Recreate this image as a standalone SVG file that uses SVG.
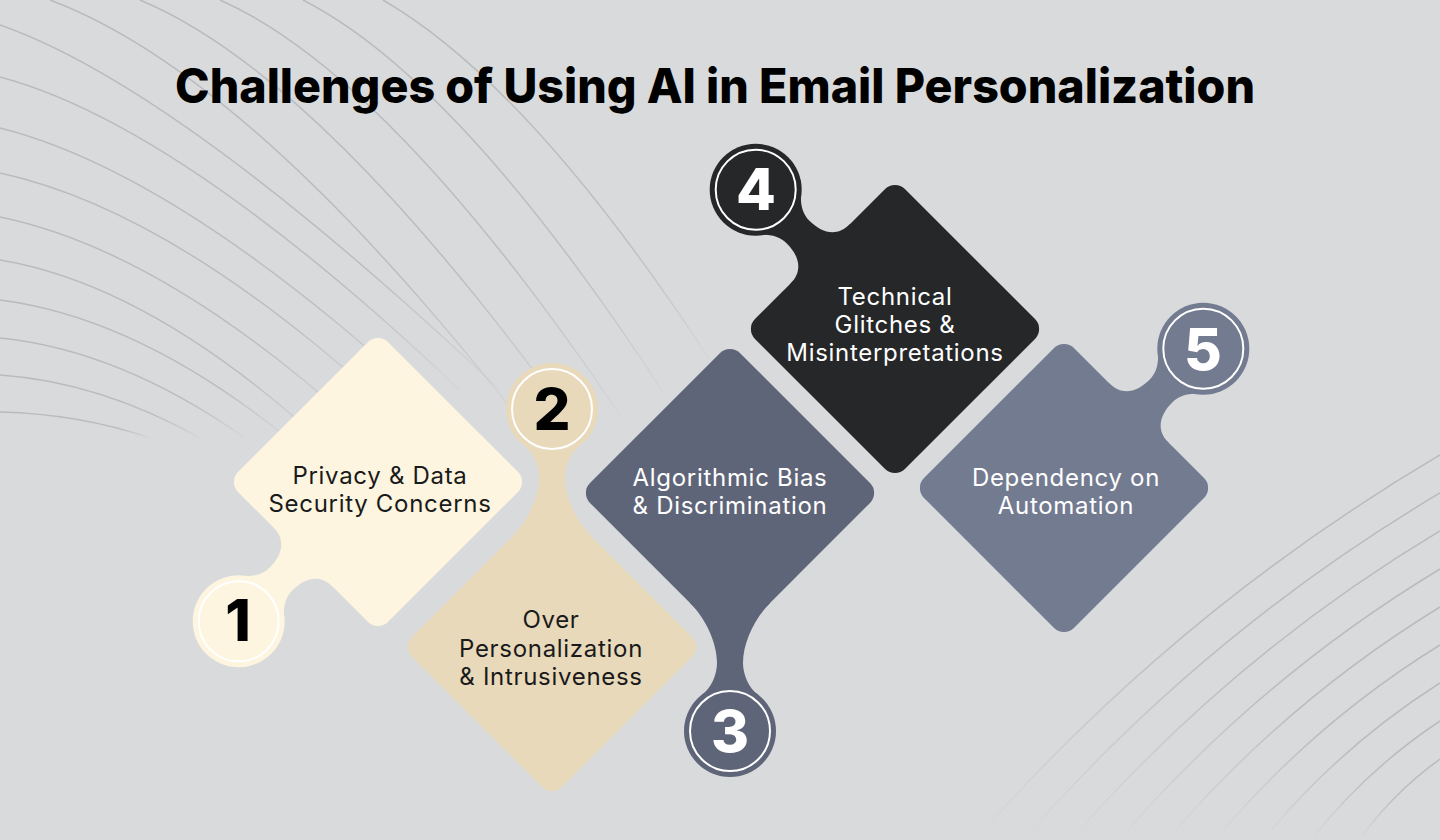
<svg xmlns="http://www.w3.org/2000/svg" width="1440" height="840" viewBox="0 0 1440 840">
  <defs>
    <linearGradient id="fadeL" x1="0" y1="0" x2="1" y2="1">
      <stop offset="0" stop-color="#b8babd" stop-opacity="1"/>
      <stop offset="0.7" stop-color="#b8babd" stop-opacity="0.9"/>
      <stop offset="1" stop-color="#b8babd" stop-opacity="0.1"/>
    </linearGradient>
    <linearGradient id="fadeR" x1="1" y1="0" x2="0" y2="1">
      <stop offset="0" stop-color="#b8babd" stop-opacity="1"/>
      <stop offset="0.5" stop-color="#b8babd" stop-opacity="0.9"/>
      <stop offset="1" stop-color="#b8babd" stop-opacity="0"/>
    </linearGradient>
    <path id="sideNeck" d="M -30,34 C -21,42 -16,50 -16,60 C -16,78 -24,91 -42,91 L -42,98 L 42,98 L 42,91 C 24,91 16,78 16,60 C 16,50 21,42 30,34 Z"/>
    <path id="vertNeck" d="M -28,36 C -19,43 -13,56 -13,68 C -13,88 -24,112 -40,128 L 40,128 C 24,112 13,88 13,68 C 13,56 19,43 28,36 Z"/>
  </defs>
  <style>
    .bgl { fill: none; stroke: url(#fadeL); stroke-width: 1.5; }
    .bgr { fill: none; stroke: url(#fadeR); stroke-width: 1.5; }
    .title { font-family: Inter, "Liberation Sans", sans-serif; font-weight: 800; font-size: 48px; fill: #000000; }
    .lbl { font-family: Inter, "Liberation Sans", sans-serif; font-weight: 400; font-size: 24px; letter-spacing: 0.7px; text-anchor: middle; }
    .dk { fill: #1a1a1a; }
    .lt { fill: #ffffff; }
    .num { font-family: Inter, "Liberation Sans", sans-serif; font-weight: 800; font-size: 58px; text-anchor: middle; }
    .nd { fill: #000000; }
    .ring { fill: none; stroke: #ffffff; stroke-width: 2; }
  </style>

  <rect x="0" y="0" width="1440" height="840" fill="#d9dadc"/>

  <g id="background-lines-left">
    <path class="bgl" d="M0,412 Q80,414 150,438"/>
    <path class="bgl" d="M0,375 Q100,382 200,438"/>
    <path class="bgl" d="M0,338 Q120,350 245,438"/>
    <path class="bgl" d="M0,300 Q140,318 290,440"/>
    <path class="bgl" d="M0,260 Q150,285 320,440"/>
    <path class="bgl" d="M0,217 Q160,250 350,420"/>
    <path class="bgl" d="M0,173 Q170,210 380,400"/>
    <path class="bgl" d="M0,128 Q175,172 420,395"/>
    <path class="bgl" d="M0,77 Q180,125 460,390"/>
    <path class="bgl" d="M0,25 Q180,88 500,390"/>
    <path class="bgl" d="M50,0 Q250,75 520,420"/>
    <path class="bgl" d="M140,0 Q320,75 570,420"/>
    <path class="bgl" d="M220,0 Q390,75 620,415"/>
    <path class="bgl" d="M303,0 Q460,80 665,395"/>
    <path class="bgl" d="M383,0 Q530,85 710,360"/>
  </g>
  <g id="background-lines-right">
    <path class="bgr" d="M975,840 Q1177,610 1440,455"/>
    <path class="bgr" d="M1023,840 Q1204,633 1440,493"/>
    <path class="bgr" d="M1071,840 Q1231,656 1440,531"/>
    <path class="bgr" d="M1119,840 Q1258,679 1440,569"/>
    <path class="bgr" d="M1167,840 Q1285,702 1440,607"/>
    <path class="bgr" d="M1215,840 Q1312,724 1440,645"/>
    <path class="bgr" d="M1263,840 Q1339,747 1440,683"/>
    <path class="bgr" d="M1311,840 Q1366,770 1440,721"/>
    <path class="bgr" d="M1359,840 Q1393,793 1440,759"/>
  </g>

  <text class="title" x="715" y="103" text-anchor="middle" textLength="1080" lengthAdjust="spacingAndGlyphs">Challenges of Using AI in Email Personalization</text>

  <g id="connectors"></g>

  <g id="node-1">
    <g transform="translate(378,482) rotate(-135)" fill="#fdf5df">
      <rect x="-106" y="-106" width="212" height="212" rx="14"/>
      <g transform="translate(0,-197)">
        <use href="#sideNeck"/>
        <circle r="46"/>
        <circle class="ring" r="40"/>
      </g>
    </g>
    <text class="num nd" x="238" y="641">1</text>
    <text class="lbl dk" x="380" y="484">Privacy &amp; Data</text>
    <text class="lbl dk" x="380" y="512">Security Concerns</text>
  </g>

  <g id="node-2">
    <g transform="translate(552,647)" fill="#e8d9ba">
      <rect x="-106" y="-106" width="212" height="212" rx="14" transform="rotate(45)"/>
      <g transform="translate(0,-238)">
        <use href="#vertNeck"/>
        <circle r="46"/>
        <circle class="ring" r="40"/>
      </g>
    </g>
    <text class="num nd" x="552" y="430">2</text>
    <text class="lbl dk" x="551" y="628">Over</text>
    <text class="lbl dk" x="551" y="657">Personalization</text>
    <text class="lbl dk" x="551" y="685">&amp; Intrusiveness</text>
  </g>

  <g id="node-3">
    <g transform="translate(730,493) rotate(180)" fill="#5f6578">
      <rect x="-106" y="-106" width="212" height="212" rx="14" transform="rotate(45)"/>
      <g transform="translate(0,-238)">
        <use href="#vertNeck"/>
        <circle r="46"/>
        <circle class="ring" r="40"/>
      </g>
    </g>
    <text class="num lt" x="730" y="752">3</text>
    <text class="lbl lt" x="730" y="486">Algorithmic Bias</text>
    <text class="lbl lt" x="730" y="514">&amp; Discrimination</text>
  </g>

  <g id="node-4">
    <g transform="translate(895,329) rotate(-45)" fill="#262729">
      <rect x="-106" y="-106" width="212" height="212" rx="14"/>
      <g transform="translate(0,-197)">
        <use href="#sideNeck"/>
        <circle r="46"/>
        <circle class="ring" r="40"/>
      </g>
    </g>
    <text class="num lt" x="756" y="210">4</text>
    <text class="lbl lt" x="895" y="305">Technical</text>
    <text class="lbl lt" x="895" y="333">Glitches &amp;</text>
    <text class="lbl lt" x="895" y="361">Misinterpretations</text>
  </g>

  <g id="node-5">
    <g transform="translate(1064,488) rotate(45)" fill="#737b90">
      <rect x="-106" y="-106" width="212" height="212" rx="14"/>
      <g transform="translate(0,-197)">
        <use href="#sideNeck"/>
        <circle r="46"/>
        <circle class="ring" r="40"/>
      </g>
    </g>
    <text class="num lt" x="1203" y="370">5</text>
    <text class="lbl lt" x="1066" y="486">Dependency on</text>
    <text class="lbl lt" x="1066" y="514">Automation</text>
  </g>
</svg>
